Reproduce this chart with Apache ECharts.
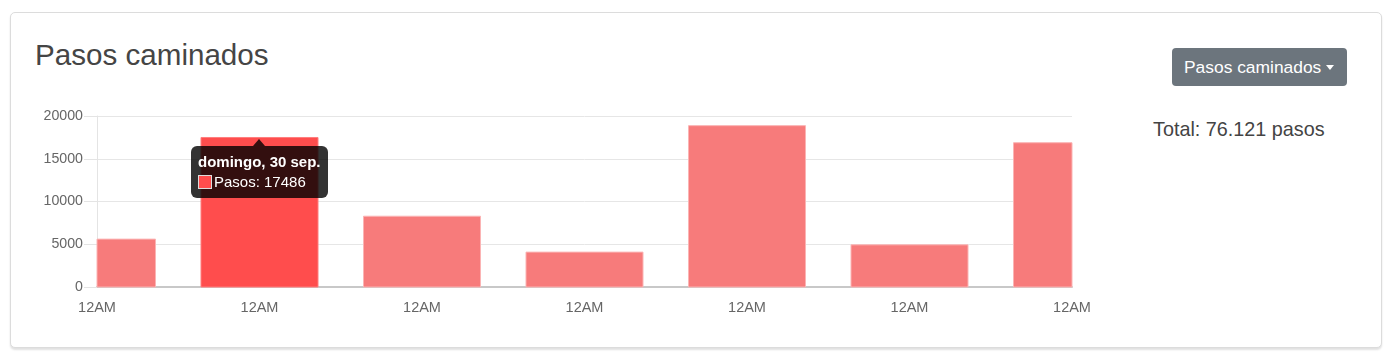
<!DOCTYPE html>
<html>
<head>
<meta charset="utf-8">
<script src="https://cdn.jsdelivr.net/npm/echarts@6/dist/echarts.min.js"></script>
<style>
  html, body { margin:0; padding:0; background:#fff; width:1391px; height:363px; overflow:hidden; font-family:"Liberation Sans", Arial, sans-serif; }
  .card { position:absolute; left:10px; top:12px; width:1370px; height:334px; border:1px solid #dcdcdc; border-radius:5px; box-shadow:0 2px 2px rgba(0,0,0,0.12); background:#fff; }
  .title { position:absolute; left:35px; top:40px; font-size:29.6px; color:#454545; line-height:1; white-space:nowrap; }
  .btn { position:absolute; left:1172px; top:48px; width:175px; height:38px; background:#6c757d; border-radius:4px; color:#fff; font-size:17.4px; line-height:38px; box-sizing:border-box; padding-left:12px; white-space:nowrap; }
  .caret { display:inline-block; width:0; height:0; border-left:4.5px solid transparent; border-right:4.5px solid transparent; border-top:5px solid #fff; vertical-align:middle; margin-left:5px; margin-top:-2px; }
  .total { position:absolute; left:1153px; top:120px; font-size:19.8px; line-height:1; color:#444; white-space:nowrap; }
  #chart { position:absolute; left:0; top:0; width:1391px; height:363px; }
</style>
</head>
<body>
<div class="card"></div>
<div class="title">Pasos caminados</div>
<div class="btn">Pasos caminados<span class="caret"></span></div>
<div class="total">Total: 76.121 pasos</div>
<div id="chart"></div>
<script>
const days = ['sábado, 29 sep.', 'domingo, 30 sep.', 'lunes, 1 oct.', 'martes, 2 oct.', 'miércoles, 3 oct.', 'jueves, 4 oct.', 'viernes, 5 oct.'];
const xLabels = ['12AM', '12AM', '12AM', '12AM', '12AM', '12AM', '12AM'];
const yTicks = [0, 5000, 10000, 15000, 20000];
const pasos = [5600, 17486, 8280, 4080, 18870, 4930, 16875];
const seriesName = 'Pasos';
const activeIndex = 1;

const chart = echarts.init(document.getElementById('chart'), null, {renderer:'canvas'});
const font = '"Liberation Sans", Arial, sans-serif';
const cssFont = "'Liberation Sans', Arial, sans-serif";

function renderBar(params, api) {
  const xv = api.value(0), yv = api.value(1);
  const top = api.coord([xv, yv]);
  const base = api.coord([xv, 0]);
  const w = api.size([1, 0])[0] * 0.72;
  const cs = params.coordSys;
  const shape = echarts.graphic.clipRectByRect(
    { x: top[0] - w / 2, y: top[1], width: w, height: base[1] - top[1] },
    { x: cs.x, y: cs.y, width: cs.width, height: cs.height }
  );
  if (!shape) return null;
  return {
    type: 'rect',
    shape: shape,
    style: { fill: '#f77b7b', stroke: '#fbb4b4', lineWidth: 1 },
    emphasis: { style: { fill: '#ff4d4d', stroke: '#ff7f7f', lineWidth: 1 } }
  };
}

chart.setOption({
  animation: false,
  backgroundColor: 'transparent',
  grid: { left: 97, right: 319, top: 116, bottom: 76 },
  xAxis: {
    type: 'value', min: 0, max: xLabels.length - 1, interval: 1,
    axisLine: { show: true, lineStyle: { color: '#c8c8c8', width: 2 } },
    axisTick: { show: false },
    splitLine: { show: false },
    axisLabel: { showMinLabel: true, showMaxLabel: true, margin: 13, color: '#666', fontSize: 14.5, fontFamily: font,
      formatter: v => xLabels[Math.round(v)] }
  },
  yAxis: {
    type: 'value', min: yTicks[0], max: yTicks[yTicks.length - 1], interval: yTicks[1] - yTicks[0],
    axisLine: { show: true, lineStyle: { color: '#e4e4e4', width: 1 } },
    axisTick: { show: true, length: 13, lineStyle: { color: '#e4e4e4' } },
    splitLine: { show: true, lineStyle: { color: '#e6e6e6', width: 1 } },
    axisLabel: { margin: 14, color: '#666', fontSize: 14.2, fontFamily: font, formatter: v => String(v) }
  },
  tooltip: {
    trigger: 'item',
    alwaysShowContent: true,
    triggerOn: 'none',
    backgroundColor: 'rgba(0,0,0,0.8)',
    borderWidth: 0,
    padding: [6, 7, 6, 7],
    extraCssText: 'border-radius:6px; box-shadow:none; overflow:visible;',
    transitionDuration: 0,
    position: function (point, params, dom, rect, size) {
      const p = chart.convertToPixel({ gridIndex: 0 }, [params.value[0], params.value[1]]);
      return [p[0] - size.contentSize[0] / 2, p[1] + 9];
    },
    formatter: function (p) {
      return '<div style="position:absolute;top:-7px;left:50%;margin-left:-6px;width:0;height:0;border-left:6px solid transparent;border-right:6px solid transparent;border-bottom:7px solid rgba(0,0,0,0.8);"></div>' +
        '<div style="font-family:' + cssFont + ';font-size:15px;line-height:19px;color:#fff;font-weight:bold;white-space:nowrap;">' + days[p.dataIndex] + '</div>' +
        '<div style="font-family:' + cssFont + ';font-size:15px;line-height:21px;color:#fff;white-space:nowrap;">' +
        '<span style="display:inline-block;width:12px;height:12px;background:#ff4d4d;border:1.5px solid #ddd;vertical-align:-2px;margin-right:2px;"></span>' +
        seriesName + ': ' + p.value[1] + '</div>';
    }
  },
  series: [{
    type: 'custom',
    name: seriesName,
    renderItem: renderBar,
    encode: { x: 0, y: 1 },
    data: pasos.map((v, i) => [i, v])
  }]
});
function activate() {
  chart.dispatchAction({ type: 'highlight', seriesIndex: 0, dataIndex: activeIndex });
  chart.dispatchAction({ type: 'showTip', seriesIndex: 0, dataIndex: activeIndex });
}
activate();
setTimeout(activate, 50);
</script>
</body>
</html>
